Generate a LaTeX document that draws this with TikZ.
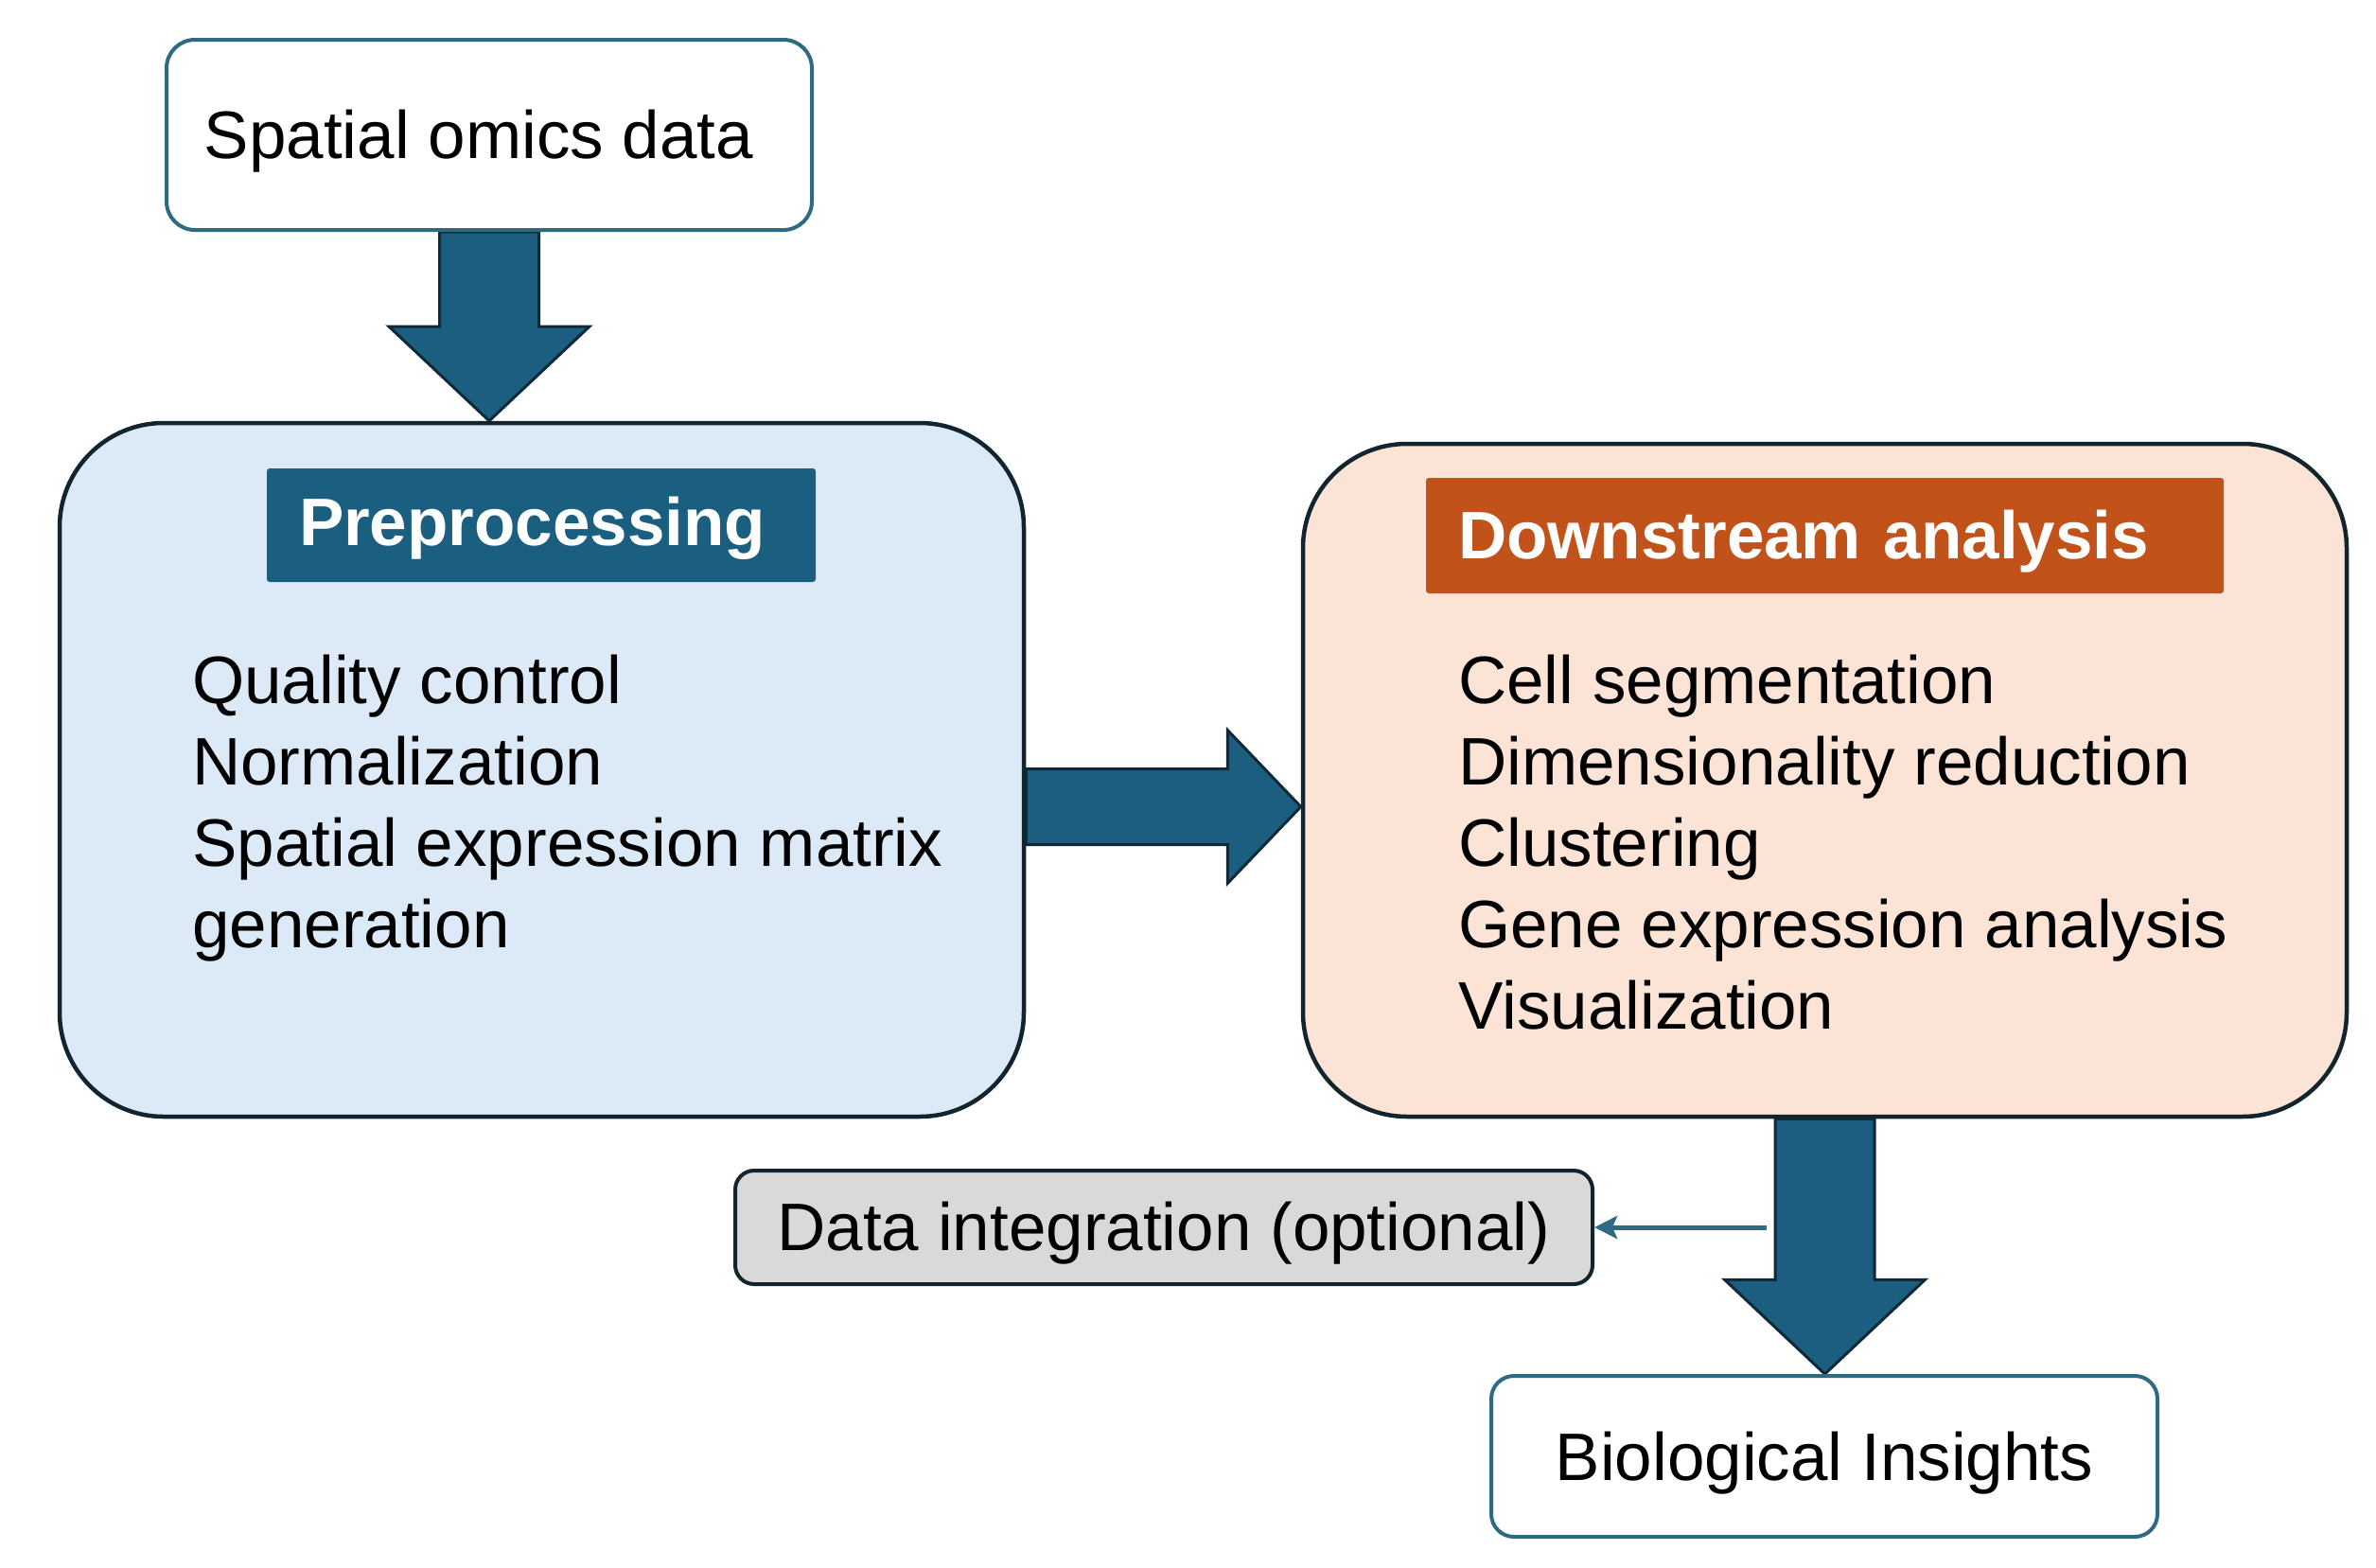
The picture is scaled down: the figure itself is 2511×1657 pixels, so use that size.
\documentclass[tikz,border=0pt]{standalone}
\usepackage{fontspec}
\setmainfont{Liberation Sans}
\usetikzlibrary{calc,arrows.meta,backgrounds}
\definecolor{arrowblue}{HTML}{1B5E80}
\definecolor{arrowedge}{HTML}{0E2A38}
\definecolor{hdrblue}{HTML}{1A5F80}
\definecolor{hdrorange}{HTML}{C1521A}
\definecolor{preblue}{HTML}{DCE9F6}
\definecolor{peach}{HTML}{FBE3D6}
\definecolor{greyfill}{HTML}{D9D9D9}
\definecolor{tealedge}{HTML}{2E6A82}
\definecolor{darkedge}{HTML}{12252F}
\begin{document}
\begin{tikzpicture}[x=1pt,y=-1pt,
  bodyfont/.style={font=\fontsize{71}{86}\selectfont},
  simplebox/.style={draw=tealedge, line width=4pt, fill=white, rounded corners=30pt,
    bodyfont, text height=49pt, text depth=0pt, inner sep=0pt},
  bigbox/.style={draw=darkedge, line width=4.5pt, rounded corners=110pt, inner sep=0pt},
  hdr/.style={font=\fontsize{71}{86}\selectfont\bfseries, text=white, rounded corners=3pt,
    inner xsep=34pt, inner ysep=0pt, align=left, text depth=0pt},
  itemlist/.style={bodyfont, align=left, inner sep=0pt, anchor=north west},
  blockarrow/.style={fill=arrowblue, draw=arrowedge, line width=3pt, line join=miter},
  thinarrow/.style={draw=tealedge, line width=5pt, -{Stealth[length=24pt,width=24pt,inset=5pt]}}
]
\useasboundingbox (0,0) rectangle (2511,1657);

% boxes
\node[simplebox, minimum width=682pt, minimum height=201pt] (src) at (517,142.5) {Spatial omics data\kern22pt};
\node[bigbox, fill=preblue, minimum width=1019pt, minimum height=733pt] (pre) at (572.5,813.5) {};
\node[bigbox, fill=peach, minimum width=1103pt, minimum height=711pt] (down) at (1928.5,824.5) {};
\node[hdr, fill=hdrblue, text width=512pt, minimum height=120pt, text height=43pt] (prehdr) at (572,555) {Preprocessing};
\node[hdr, fill=hdrorange, text width=775pt, minimum height=122pt, text height=48pt] (downhdr) at (1928.5,566) {Downstream analysis};
\node[itemlist] (prelist) at (203,692) {Quality control\\Normalization\\Spatial expression matrix\\generation};
\node[itemlist] (downlist) at (1541,692) {Cell segmentation\\Dimensionality reduction\\Clustering\\Gene expression analysis\\Visualization};
\node[simplebox, draw=darkedge, fill=greyfill, rounded corners=20pt, minimum width=906pt, minimum height=120pt] (data) at (1230,1297) {Data integration (optional)};
\node[simplebox, rounded corners=24pt, minimum width=704pt, minimum height=170pt, text height=51pt] (bio) at (1928,1539) {Biological Insights};

\coordinate (tstart) at (1867,1297);

\begin{scope}[on background layer]
% arrow src -> pre
\draw[blockarrow] ($(src.south)+(-52.5,0)$) -- ($(src.south)+(52.5,0)$) -- ($(src.south)+(52.5,100)$)
  -- ($(src.south)+(106,100)$) -- (src.south |- pre.north) -- ($(src.south)+(-106,100)$)
  -- ($(src.south)+(-52.5,100)$) -- cycle;
% arrow pre -> down
\coordinate (rs) at ($(pre.east)+(0,39)$);
\draw[blockarrow] ($(rs)+(0,-40)$) -- ($(rs)+(213,-40)$) -- ($(rs)+(213,-81)$)
  -- (down.west |- rs) -- ($(rs)+(213,81)$) -- ($(rs)+(213,40)$) -- ($(rs)+(0,40)$) -- cycle;
% arrow down -> bio
\draw[blockarrow] ($(down.south)+(-52.5,0)$) -- ($(down.south)+(52.5,0)$) -- ($(down.south)+(52.5,170)$)
  -- ($(down.south)+(106,170)$) -- (down.south |- bio.north) -- ($(down.south)+(-106,170)$)
  -- ($(down.south)+(-52.5,170)$) -- cycle;
\end{scope}

\draw[thinarrow] (tstart) -- (data.east);
\end{tikzpicture}
\end{document}
